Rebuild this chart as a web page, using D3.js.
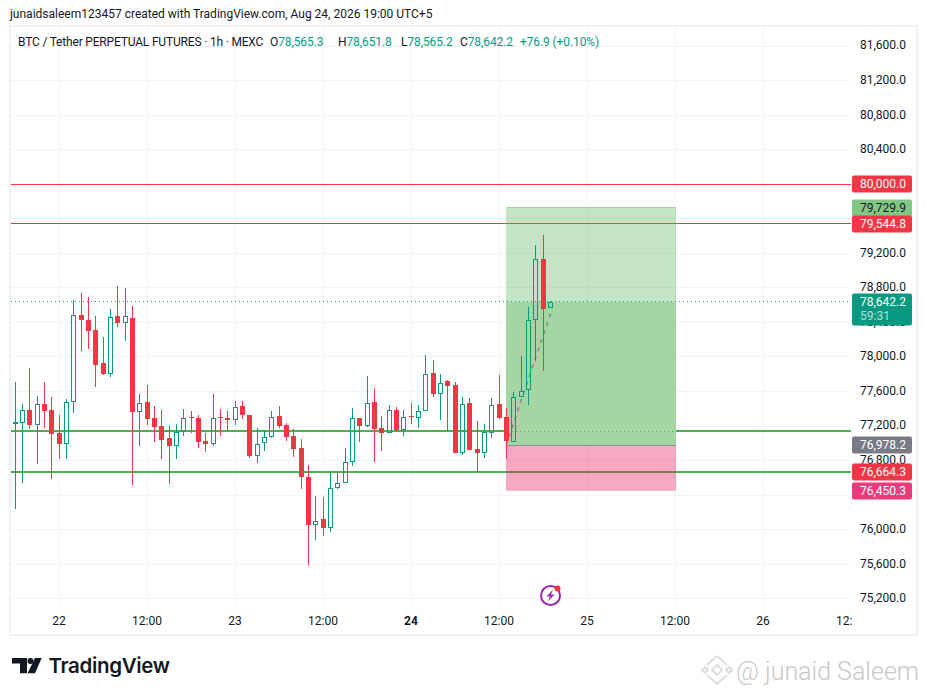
<!DOCTYPE html>
<html>
<head>
<meta charset="utf-8">
<script src="https://cdn.jsdelivr.net/npm/d3@7"></script>
<style>
    html, body { margin: 0; padding: 0; background: #fff; }
    svg { display: block; font-family: Roboto, sans-serif; }
</style>
</head>
<body>
<div id="chart"></div>
<script>
// hourly candles, first one is Aug 21 18:00 (chart time)
var firstCandle = "2026-08-21T18:00:00Z";

var opens = [77228,77239,77389,77216,77459,77382,77116,76996,77482,78492,78430,78307,77925,77806,78469,78395,78457,77366,77474,77289,77197,77058,76973,77135,
    77301,77289,77023,76993,77301,77289,77274,77428,77324,76854,77004,77073,77312,77208,77081,76942,76607,76056,76122,76021,76488,76542,76784,
    77297,77201,77474,77174,77124,77389,77151,77312,77293,77374,77810,77574,77717,77671,76888,77463,76931,76888,77124,77451,
    77301,77016,77536,77617,78430,79136,78565.3];
var highs = [77706,77451,77867,77544,77706,77532,77324,77509,78665,78746,78700,78480,78226,78550,78827,78804,78596,77567,77671,77428,77382,77197,77220,77393,
    77370,77324,77116,77567,77393,77370,77486,77486,77324,77174,77151,77370,77428,77231,77162,77046,76746,76387,76376,76676,76661,76942,77405,
    77297,77775,77636,77312,77447,77416,77382,77463,77440,78018,77960,77798,77729,77706,77532,77520,77255,77220,77520,77786,
    77405,77590,78008,78584,79301,79417,78651.8];
var lows = [76241,76542,77166,76761,77178,76584,76819,76819,77347,78068,78091,77652,77790,77767,78345,78183,76519,76969,77212,77016,76819,76530,76819,77085,
    77116,76946,76896,76966,77081,77139,77208,77278,76827,76769,76908,77058,77174,77023,76838,76468,75590,75879,75925,75971,76468,76542,76734,
    77012,77185,76781,76908,77116,77127,77081,77220,77174,77374,77532,77266,77139,76885,76861,76919,76665,76827,77058,77278,
    76815,77016,77536,77444,77952,77833,78565.2];
var closes = [77243,77389,77212,77459,77374,77108,76993,77482,78488,78426,78299,77906,77802,78465,78392,78476,77363,77470,77282,77189,77039,76969,77135,77297,
    77289,77016,76989,77297,77289,77270,77424,77328,76850,76996,77077,77309,77197,77070,76931,76607,76052,76106,76018,76488,76545,76788,77297,
    77197,77470,77162,77116,77389,77151,77309,77305,77378,77806,77567,77702,77659,76885,77459,76919,76885,77135,77447,77289,
    77024,77540,77609,78430,79136,78554,78642.2];

var priceTicks = [81600,81200,80800,80400,79200,78800,78400,78000,77600,77200,76800,76000,75600,75200];
var timeTicks = ["2026-08-22T00:00:00Z","2026-08-22T12:00:00Z","2026-08-23T00:00:00Z","2026-08-23T12:00:00Z","2026-08-24T00:00:00Z",
    "2026-08-24T12:00:00Z","2026-08-25T00:00:00Z","2026-08-25T12:00:00Z","2026-08-26T00:00:00Z","2026-08-26T12:00:00Z"];
var timeLabels = ["22","12:00","23","12:00","24","12:00","25","12:00","26","12:00"];

// horizontal lines drawn by hand on the chart
var greenLevels = [77140, 76664.3];
var redLevels = [80000, 79544.8];

// long position tool
var boxStart = "2026-08-24T13:00:00Z";
var boxEnd = "2026-08-25T12:00:00Z";
var boxTarget = 79729.9;
var boxEntry = 76978.2;
var boxStop = 76450.3;

var lastPrice = 78642.2;
var countdown = "59:31";

var labelValues = [80000, 79729.9, 79544.8, 76978.2, 76664.3, 76450.3];
var labelColors = ["#f23645", "#81c784", "#f23645", "#787b86", "#f23645", "#ec3b7c"];
var labelTextColors = ["#fff", "#131722", "#fff", "#fff", "#fff", "#fff"];

var titleText = "BTC / Tether PERPETUAL FUTURES · 1h · MEXC";
var creditText = "junaidsaleem123457 created with TradingView.com, Aug 24, 2026 19:00 UTC+5";

var green = "#089981", red = "#f23645", gridColor = "#f3f3f3", frameColor = "#f1f1f1", textColor = "#131722";
var paneRight = 851, paneLeft = 11, paneTop = 27, gridBottom = 607;

var parse = function(s) { return new Date(s); };
var fmt = d3.format(",.1f");

var candles = opens.map(function(o, i) {
    return {time: d3.utcHour.offset(parse(firstCandle), i), open: o, high: highs[i], low: lows[i], close: closes[i]};
});

var svg = d3.select("#chart").append("svg")
    .attr("width", 927)
    .attr("height", 696);

var x = d3.scaleUtc()
    .domain([parse("2026-08-22T00:00:00Z"), parse("2026-08-26T00:00:00Z")])
    .range([59.1, 763.1]);

var y = d3.scaleLinear()
    .domain([75200, 81600])
    .range([598.8, 46.1]);

// snap to pixel rows / columns so 1px lines stay sharp
var cx = function(t) { return Math.floor(x(t)) + 0.5; };
var cy = function(p) { return Math.floor(y(p)) + 0.5; };

svg.append("defs").append("clipPath").attr("id", "pane")
    .append("rect").attr("x", paneLeft).attr("y", paneTop).attr("width", paneRight - paneLeft).attr("height", 608);
svg.append("defs").append("clipPath").attr("id", "timeclip")
    .append("rect").attr("x", 0).attr("y", 605).attr("width", 852).attr("height", 30);

// frame
svg.append("rect")
    .attr("x", 10).attr("y", 26)
    .attr("width", 907).attr("height", 609)
    .attr("fill", "none")
    .attr("stroke", frameColor)
    .attr("stroke-width", 2);

// credit line
svg.append("text")
    .attr("x", 10).attr("y", 18)
    .attr("font-size", 12)
    .attr("fill", textColor)
    .text(creditText);

var pane = svg.append("g").attr("clip-path", "url(#pane)");

// grid
pane.selectAll(".hgrid")
    .data(d3.range(75200, 81601, 400))
    .enter().append("line")
    .attr("class", "hgrid")
    .attr("x1", paneLeft).attr("x2", paneRight)
    .attr("y1", cy).attr("y2", cy)
    .attr("stroke", gridColor);

pane.selectAll(".vgrid")
    .data(timeTicks.map(parse))
    .enter().append("line")
    .attr("class", "vgrid")
    .attr("x1", cx).attr("x2", cx)
    .attr("y1", paneTop).attr("y2", gridBottom)
    .attr("stroke", gridColor);

// levels go under the position box
pane.selectAll(".green-level")
    .data(greenLevels)
    .enter().append("line")
    .attr("class", "green-level")
    .attr("x1", paneLeft).attr("x2", paneRight)
    .attr("y1", function(d) { return Math.round(y(d)); })
    .attr("y2", function(d) { return Math.round(y(d)); })
    .attr("stroke", "#4caf50")
    .attr("stroke-width", 2);

pane.selectAll(".red-level")
    .data(redLevels)
    .enter().append("line")
    .attr("class", "red-level")
    .attr("x1", paneLeft).attr("x2", paneRight)
    .attr("y1", cy).attr("y2", cy)
    .attr("stroke", red);

// position box
var bx0 = Math.floor(x(parse(boxStart))), bx1 = Math.ceil(x(parse(boxEnd)));
var box = pane.append("g");

box.append("rect")
    .attr("x", bx0).attr("width", bx1 - bx0)
    .attr("y", y(boxTarget)).attr("height", y(lastPrice) - y(boxTarget))
    .attr("fill", "rgba(76,175,80,0.33)");
box.append("rect")
    .attr("x", bx0).attr("width", bx1 - bx0)
    .attr("y", y(lastPrice)).attr("height", y(boxEntry) - y(lastPrice))
    .attr("fill", "#a3d6a3");
box.append("rect")
    .attr("x", bx0).attr("width", bx1 - bx0)
    .attr("y", y(boxEntry)).attr("height", y(boxStop) - y(boxEntry))
    .attr("fill", "rgba(233,30,99,0.38)");
box.append("line")
    .attr("x1", bx0).attr("x2", bx1)
    .attr("y1", cy(boxEntry)).attr("y2", cy(boxEntry))
    .attr("stroke", "#8a8f8a");
box.append("line")
    .attr("x1", bx0).attr("x2", bx1)
    .attr("y1", cy(boxTarget)).attr("y2", cy(boxTarget))
    .attr("stroke", "#a8d0a6");
// what is left of the upper green level inside the box
box.append("line")
    .attr("x1", bx0 + 6).attr("x2", bx1)
    .attr("y1", cy(greenLevels[0])).attr("y2", cy(greenLevels[0]))
    .attr("stroke", "#5da860")
    .attr("stroke-dasharray", "1,3");
// entry to current price
box.append("line")
    .attr("x1", bx0).attr("y1", y(boxEntry))
    .attr("x2", x(candles[candles.length - 1].time) + 2).attr("y2", y(opens[opens.length - 1]))
    .attr("stroke", "#84868e")
    .attr("stroke-width", 1.5)
    .attr("stroke-dasharray", "4,5");

// candles
var candle = pane.selectAll(".candle")
    .data(candles)
    .enter().append("g")
    .attr("class", "candle")
    .each(function(d) {
        var g = d3.select(this);
        var up = d.close >= d.open;
        var col = up ? green : red;
        var c = cx(d.time);
        var top = Math.round(y(Math.max(d.open, d.close)));
        var bottom = Math.round(y(Math.min(d.open, d.close)));
        var h = Math.max(bottom - top, 1);
        var hi = Math.round(y(d.high)), lo = Math.round(y(d.low));

        if (hi < top) {
            g.append("line").attr("x1", c).attr("x2", c).attr("y1", hi).attr("y2", top).attr("stroke", col);
        }
        if (lo > top + h) {
            g.append("line").attr("x1", c).attr("x2", c).attr("y1", top + h).attr("y2", lo).attr("stroke", col);
        }
        if (up) {
            g.append("rect")
                .attr("x", c - 2).attr("y", top + 0.5)
                .attr("width", 4).attr("height", Math.max(h - 1, 1))
                .attr("fill", "none")
                .attr("stroke", col);
        } else {
            g.append("rect")
                .attr("x", c - 2.5).attr("y", top)
                .attr("width", 5).attr("height", h)
                .attr("fill", col);
        }
    });

// last price line
pane.append("line")
    .attr("x1", paneLeft).attr("x2", paneRight)
    .attr("y1", cy(lastPrice)).attr("y2", cy(lastPrice))
    .attr("stroke", green)
    .attr("stroke-dasharray", "1,3");

// event icon on the time line
var icon = svg.append("g").attr("transform", "translate(550.5,595.5)");
icon.append("circle").attr("r", 9.5).attr("fill", "#fff").attr("stroke", "#9c27b0").attr("stroke-width", 2);
icon.append("path").attr("d", "M2.5,-6 L-4,1 L-0.5,1 L-2.5,6 L4,-1 L0.5,-1 Z").attr("fill", "#9c27b0");
icon.append("circle").attr("cx", 7).attr("cy", -7).attr("r", 3).attr("fill", red);

// legend line
var legend = svg.append("text").attr("x", 18).attr("y", 45.5).attr("font-size", 12).attr("letter-spacing", -0.18);
legend.append("tspan").attr("fill", textColor).text(titleText);

var lastC = candles[candles.length - 1];
var legendKeys = ["O", "H", "L", "C"];
var legendVals = [lastC.open, lastC.high, lastC.low, lastC.close];
var legendX = [270, 338, 401, 460];
legendKeys.forEach(function(k, i) {
    var t = svg.append("text").attr("x", legendX[i]).attr("y", 45.5).attr("font-size", 12).attr("letter-spacing", -0.1);
    t.append("tspan").attr("fill", textColor).text(k);
    t.append("tspan").attr("fill", green).text(fmt(legendVals[i]));
});
var change = lastC.close - lastC.open;
svg.append("text")
    .attr("x", 520).attr("y", 45.5)
    .attr("font-size", 12)
    .attr("letter-spacing", -0.1)
    .attr("fill", green)
    .text("+" + d3.format(".1f")(change) + " (+" + d3.format(".2f")(change / lastC.open * 100) + "%)");

// price axis
var yAxis = d3.axisRight(y)
    .tickValues(priceTicks)
    .tickFormat(fmt)
    .tickSize(0)
    .tickPadding(0);

svg.append("g")
    .attr("class", "axis")
    .attr("transform", "translate(860,-1)")
    .call(yAxis)
    .call(function(g) { g.select(".domain").remove(); })
    .selectAll("text")
    .attr("font-family", "Roboto, sans-serif")
    .attr("font-size", 12)
    .attr("fill", textColor);

// time axis
var xAxis = d3.axisBottom(x)
    .tickValues(timeTicks.map(parse))
    .tickFormat(function(d, i) { return timeLabels[i]; })
    .tickSize(0)
    .tickPadding(0);

svg.append("g")
    .attr("clip-path", "url(#timeclip)")
    .append("g")
    .attr("class", "axis")
    .attr("transform", "translate(-0.6,616)")
    .call(xAxis)
    .call(function(g) { g.select(".domain").remove(); })
    .selectAll("text")
    .attr("font-family", "Roboto, sans-serif")
    .attr("font-size", 12)
    .attr("font-weight", function(d, i) { return timeLabels[i] === "24" ? 700 : 400; })
    .attr("fill", textColor);

// price labels
var pills = svg.selectAll(".pill")
    .data(labelValues)
    .enter().append("g")
    .attr("class", "pill")
    .attr("transform", function(d) { return "translate(852," + Math.round(y(d)) + ")"; });

pills.append("rect")
    .attr("x", 0).attr("y", -8.5)
    .attr("width", 60).attr("height", 17)
    .attr("rx", 2)
    .attr("fill", function(d, i) { return labelColors[i]; });

pills.append("text")
    .attr("x", 8).attr("y", 4)
    .attr("font-size", 12)
    .attr("fill", function(d, i) { return labelTextColors[i]; })
    .text(fmt);

var lastPill = svg.append("g").attr("transform", "translate(852," + Math.round(y(lastPrice)) + ")");
lastPill.append("rect")
    .attr("x", 0).attr("y", -8.5)
    .attr("width", 60).attr("height", 32)
    .attr("rx", 2)
    .attr("fill", green);
lastPill.append("text")
    .attr("x", 8).attr("y", 4)
    .attr("font-size", 12)
    .attr("fill", "#fff")
    .text(fmt(lastPrice));
lastPill.append("text")
    .attr("x", 8).attr("y", 18)
    .attr("font-size", 12)
    .attr("fill", "#b5e0d6")
    .text(countdown);

// TradingView logo
var logo = svg.append("g").attr("fill", "#131722");
logo.append("path").attr("d", "M12,658 H27 V673.3 H20 V663.5 H12 Z");
logo.append("circle").attr("cx", 30.5).attr("cy", 661).attr("r", 3);
logo.append("path").attr("d", "M35,658 H41.7 L35,673.3 H27.6 Z");
svg.append("text")
    .attr("x", 48.5).attr("y", 673)
    .attr("font-family", "Inter, sans-serif")
    .attr("font-size", 20.5)
    .attr("font-weight", 600)
    .attr("letter-spacing", -0.35)
    .attr("fill", "#131722")
    .text("TradingView");

// watermark
var wm = svg.append("g").attr("transform", "translate(717,670)").attr("fill", "none").attr("stroke", "#dedede").attr("stroke-width", 2);
wm.append("path").attr("d", "M0,-14 L10,-5 M-10,-5 L0,-14 M-10,5 L0,14 L10,5");
wm.append("path").attr("d", "M0,-5 L5,0 L0,5 L-5,0 Z");
wm.append("path").attr("d", "M-15,0 L-12,-3 L-9,0 L-12,3 Z M15,0 L12,-3 L9,0 L12,3 Z");
svg.append("text")
    .attr("x", 736).attr("y", 680)
    .attr("font-family", "Roboto, sans-serif")
    .attr("font-size", 25)
    .attr("font-weight", 300)
    .attr("fill", "#c8c8c8")
    .text("@ junaid Saleem");
</script>
</body>
</html>
